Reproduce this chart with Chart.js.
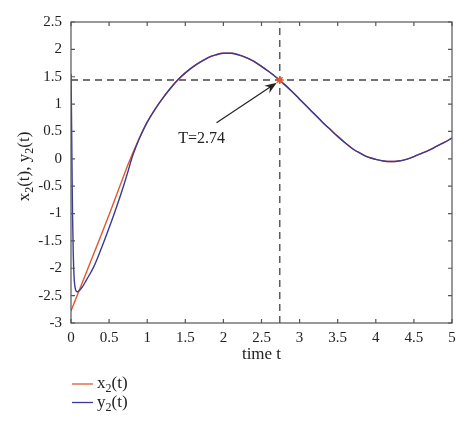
<!DOCTYPE html>
<html>
<head>
<meta charset="utf-8">
<script src="https://cdn.jsdelivr.net/npm/chart.js@4.4.1/dist/chart.umd.min.js"></script>
<style>
  html, body { margin: 0; padding: 0; background: #fff; }
  #wrap { width: 474px; height: 430px; }
</style>
</head>
<body>
<div id="wrap"><canvas id="plot" width="474" height="430"></canvas></div>
<script>
// time samples (dense near t=0 where y2 dives)
var tValues = [0, 0.005, 0.01, 0.015, 0.02, 0.03, 0.04, 0.05, 0.06, 0.07, 0.083, 0.1, 0.15,
  0.2, 0.3, 0.4, 0.5, 0.6, 0.7, 0.75, 0.8, 0.85, 0.9, 1.0, 1.1, 1.2, 1.3, 1.4, 1.5, 1.6, 1.7, 1.8, 1.9,
  2.0, 2.1, 2.2, 2.3, 2.4, 2.5, 2.6, 2.7, 2.8, 2.9, 3.0, 3.1, 3.2, 3.3, 3.4, 3.5, 3.6, 3.7,
  3.8, 3.9, 4.0, 4.1, 4.2, 4.3, 4.4, 4.5, 4.6, 4.7, 4.8, 4.9, 5.0];

var x2Values = [-2.78, -2.76, -2.745, -2.73, -2.71, -2.675, -2.64, -2.605, -2.57, -2.535, -2.49, -2.43, -2.255,
  -2.08, -1.73, -1.38, -1.02, -0.65, -0.28, -0.1, 0.07, 0.23, 0.39, 0.67, 0.9, 1.1, 1.28, 1.44, 1.57, 1.68, 1.77, 1.85, 1.9,
  1.93, 1.93, 1.9, 1.85, 1.78, 1.69, 1.59, 1.48, 1.36, 1.23, 1.09, 0.95, 0.81, 0.67, 0.54, 0.41, 0.29, 0.18,
  0.1, 0.03, -0.01, -0.04, -0.05, -0.04, -0.01, 0.04, 0.1, 0.16, 0.23, 0.3, 0.38];

var y2Values = [1.55, 1.0, 0.3, -0.4, -1.0, -1.75, -2.15, -2.32, -2.39, -2.42, -2.43, -2.42, -2.34,
  -2.22, -1.97, -1.63, -1.26, -0.87, -0.45, -0.22, 0.02, 0.21, 0.38, 0.67, 0.9, 1.1, 1.28, 1.44, 1.57, 1.68, 1.77, 1.85, 1.9,
  1.93, 1.93, 1.9, 1.85, 1.78, 1.69, 1.59, 1.48, 1.36, 1.23, 1.09, 0.95, 0.81, 0.67, 0.54, 0.41, 0.29, 0.18,
  0.1, 0.03, -0.01, -0.04, -0.05, -0.04, -0.01, 0.04, 0.1, 0.16, 0.23, 0.3, 0.38];

var seriesNames = ['x', 'y'];   // drawn as x2(t), y2(t)
var xTitle = 'time t';
var markT = 2.74;
var markY = 1.44;
var noteText = 'T=2.74';
var arrowFrom = [1.91, 0.66];
var arrowTo = [2.70, 1.39];
var notePos = [1.715, 0.365];

var xMin = 0, xMax = 5, xStep = 0.5;
var yMin = -3, yMax = 2.5, yStep = 0.5;

var redColor = '#E0582E';
var blueColor = '#3A3A98';
var serif = '"Liberation Serif", "DejaVu Serif", serif';

function pts(xs, ys) {
  var out = [];
  for (var i = 0; i < xs.length; i++) out.push({x: xs[i], y: ys[i]});
  return out;
}

// text with a lowered "2" after the first letter: x2(t)
function subText(c, letter, rest, x, y, big, small) {
  c.font = big + 'px ' + serif;
  c.fillText(letter, x, y);
  x += c.measureText(letter).width;
  c.font = small + 'px ' + serif;
  c.fillText('2', x, y + 4);
  x += c.measureText('2').width;
  c.font = big + 'px ' + serif;
  c.fillText(rest, x, y);
  return x + c.measureText(rest).width;
}

// box, inward ticks, titles, arrow, note and legend
var decor = {
  id: 'decor',
  afterDraw: function(chart) {
    var c = chart.ctx;
    var a = chart.chartArea;
    var xs = chart.scales.x, ys = chart.scales.y;
    c.save();
    c.strokeStyle = '#555';
    c.lineWidth = 1.2;
    c.strokeRect(a.left, a.top, a.right - a.left, a.bottom - a.top);
    c.beginPath();
    for (var v = xMin; v <= xMax + 1e-9; v += xStep) {
      var px = xs.getPixelForValue(v);
      c.moveTo(px, a.bottom); c.lineTo(px, a.bottom - 4);
      c.moveTo(px, a.top); c.lineTo(px, a.top + 4);
    }
    for (var w = yMin; w <= yMax + 1e-9; w += yStep) {
      var py = ys.getPixelForValue(w);
      c.moveTo(a.left, py); c.lineTo(a.left + 4, py);
      c.moveTo(a.right, py); c.lineTo(a.right - 4, py);
    }
    c.stroke();

    // arrow
    var x0 = xs.getPixelForValue(arrowFrom[0]), y0 = ys.getPixelForValue(arrowFrom[1]);
    var x1 = xs.getPixelForValue(arrowTo[0]), y1 = ys.getPixelForValue(arrowTo[1]);
    var ang = Math.atan2(y1 - y0, x1 - x0);
    var ca = Math.cos(ang), sa = Math.sin(ang);
    c.strokeStyle = '#222';
    c.fillStyle = '#222';
    c.lineWidth = 1.2;
    c.beginPath();
    c.moveTo(x0, y0);
    c.lineTo(x1 - 6 * ca, y1 - 6 * sa);
    c.stroke();
    c.beginPath();
    c.moveTo(x1, y1);
    c.lineTo(x1 - 12 * ca + 4.5 * sa, y1 - 12 * sa - 4.5 * ca);
    c.lineTo(x1 - 8 * ca, y1 - 8 * sa);
    c.lineTo(x1 - 12 * ca - 4.5 * sa, y1 - 12 * sa + 4.5 * ca);
    c.closePath();
    c.fill();

    // note
    c.fillStyle = '#222';
    c.font = '16px ' + serif;
    c.textAlign = 'center';
    c.textBaseline = 'middle';
    c.fillText(noteText, xs.getPixelForValue(notePos[0]), ys.getPixelForValue(notePos[1]));

    // x axis title
    c.font = '17px ' + serif;
    c.fillText(xTitle, (a.left + a.right) / 2, 355);

    // y axis title, rotated
    c.save();
    c.textAlign = 'left';
    c.textBaseline = 'alphabetic';
    c.font = '17px ' + serif;
    var total = 2 * c.measureText('x(t)').width + c.measureText(', ').width;
    c.font = '12px ' + serif;
    total += 2 * c.measureText('2').width;
    c.translate(29, (a.top + a.bottom) / 2 - 6);
    c.rotate(-Math.PI / 2);
    var cx = subText(c, 'x', '(t), ', -total / 2, 0, 17, 12);
    subText(c, 'y', '(t)', cx, 0, 17, 12);
    c.restore();

    // legend
    var colors = [redColor, blueColor];
    c.textAlign = 'left';
    c.textBaseline = 'alphabetic';
    for (var k = 0; k < seriesNames.length; k++) {
      var ly = 384 + k * 18.5;
      c.strokeStyle = colors[k];
      c.lineWidth = 1.3;
      c.beginPath();
      c.moveTo(72, ly); c.lineTo(93, ly);
      c.stroke();
      c.fillStyle = '#222';
      subText(c, seriesNames[k], '(t)', 97, ly + 4, 17, 12);
    }
    c.restore();
  }
};

var ctx = document.getElementById('plot').getContext('2d');
var chart = new Chart(ctx, {
  type: 'scatter',
  data: {
    datasets: [
      {
        label: 'x2(t)',
        data: pts(tValues, x2Values),
        showLine: true,
        borderColor: redColor,
        borderWidth: 1.4,
        pointRadius: 0,
        cubicInterpolationMode: 'monotone',
        order: 1
      },
      {
        label: 'y2(t)',
        data: pts(tValues, y2Values),
        showLine: true,
        borderColor: blueColor,
        borderWidth: 1.4,
        pointRadius: 0,
        cubicInterpolationMode: 'monotone',
        order: 0
      },
      {
        label: 'vline',
        data: pts([markT, markT], [yMin, yMax]),
        showLine: true,
        borderColor: '#444',
        borderWidth: 1.3,
        borderDash: [7, 5],
        pointRadius: 0,
        order: 2
      },
      {
        label: 'hline',
        data: pts([xMin, xMax], [markY, markY]),
        showLine: true,
        borderColor: '#444',
        borderWidth: 1.3,
        borderDash: [7, 5],
        pointRadius: 0,
        order: 2
      },
      {
        label: 'mark',
        data: pts([markT], [markY]),
        showLine: false,
        pointStyle: 'star',
        pointRadius: 4,
        borderColor: redColor,
        backgroundColor: redColor,
        borderWidth: 1.5,
        order: -1
      }
    ]
  },
  options: {
    responsive: false,
    animation: false,
    layout: { padding: { top: 22, right: 22, left: 0, bottom: 0 } },
    plugins: { legend: { display: false }, tooltip: { enabled: false } },
    scales: {
      x: {
        type: 'linear',
        min: xMin, max: xMax,
        afterFit: function(s) { s.height = 107; },
        grid: { display: false, drawTicks: false },
        border: { display: false },
        ticks: {
          stepSize: xStep, padding: 6, color: '#222', font: { family: serif, size: 15 },
          callback: function(v) { return String(v); }
        }
      },
      y: {
        type: 'linear',
        min: yMin, max: yMax,
        afterFit: function(s) { s.width = 71; },
        grid: { display: false, drawTicks: false },
        border: { display: false },
        ticks: {
          stepSize: yStep, padding: 9, color: '#222', font: { family: serif, size: 15 },
          callback: function(v) { return String(v); }
        }
      }
    }
  },
  plugins: [decor]
});
</script>
</body>
</html>
